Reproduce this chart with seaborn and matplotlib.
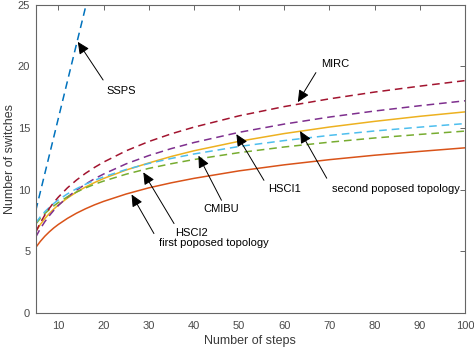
import matplotlib
matplotlib.use("Agg")
import matplotlib.pyplot as plt
import seaborn as sns
import pandas as pd

# ---- data ----
steps = [5, 6, 7, 8, 9, 10, 12, 14, 16, 18, 20, 25, 30, 35, 40, 50, 60, 70, 80, 90, 100]
ssps_steps = [5, 10, 15, 20]
ssps = [8.3, 15.8, 23.3, 30.8]
mirc = [6.55, 7.30, 7.93, 8.48, 8.96, 9.39, 10.14, 10.77, 11.32, 11.80, 12.23, 13.15,
        13.90, 14.53, 15.07, 15.99, 16.74, 17.37, 17.92, 18.40, 18.85]
hsci1 = [6.15, 6.82, 7.39, 7.88, 8.32, 8.71, 9.38, 9.95, 10.44, 10.88, 11.26, 12.09,
         12.76, 13.33, 13.82, 14.65, 15.32, 15.89, 16.38, 16.81, 17.21]
second_prop = [6.60, 7.16, 7.64, 8.06, 8.42, 8.75, 9.31, 9.79, 10.21, 10.57, 10.90, 11.59,
               12.16, 12.69, 13.15, 13.92, 14.55, 15.08, 15.54, 15.95, 16.31]
cmibu = [7.30, 7.79, 8.20, 8.56, 8.88, 9.16, 9.65, 10.07, 10.43, 10.75, 11.03, 11.63,
         12.12, 12.53, 12.89, 13.50, 13.98, 14.40, 14.76, 15.07, 15.36]
hsci2 = [7.20, 7.66, 8.05, 8.38, 8.68, 8.95, 9.41, 9.80, 10.13, 10.43, 10.69, 11.25,
         11.72, 12.10, 12.44, 13.00, 13.46, 13.85, 14.19, 14.48, 14.75]
first_prop = [5.30, 5.79, 6.21, 6.57, 6.89, 7.17, 7.66, 8.08, 8.44, 8.76, 9.04, 9.64,
              10.14, 10.55, 10.91, 11.52, 12.01, 12.43, 12.79, 13.10, 13.39]

xticks = [10, 20, 30, 40, 50, 60, 70, 80, 90, 100]
yticks = [0, 5, 10, 15, 20, 25]

series = [
    ("SSPS", ssps_steps, ssps, "#0072BD", "--"),
    ("first poposed topology", steps, first_prop, "#D95319", "-"),
    ("second poposed topology", steps, second_prop, "#EDB120", "-"),
    ("HSCI1", steps, hsci1, "#7E2F8E", "--"),
    ("HSCI2", steps, hsci2, "#77AC30", "--"),
    ("CMIBU", steps, cmibu, "#4DBEEE", "--"),
    ("MIRC", steps, mirc, "#A2142F", "--"),
]

sns.set_theme(style="white")
plt.rcParams["font.family"] = ["Liberation Sans", "DejaVu Sans"]

fig = plt.figure(figsize=(4.74, 3.49), dpi=100)
ax = fig.add_axes([0.0755, 0.104, 0.9055, 0.882])

for name, xs, ys, col, ls in series:
    df = pd.DataFrame({"x": xs, "y": ys})
    line_kw = dict(color=col, linewidth=1.1)
    if ls == "--":
        line_kw["dashes"] = (5, 3.2)
    sns.lineplot(data=df, x="x", y="y", ax=ax, legend=False, **line_kw)

ax.set_xlim(5, 100)
ax.set_ylim(0, 25)
ax.set_xticks(xticks)
ax.set_yticks(yticks)
axcol = "#666666"
for s in ax.spines.values():
    s.set_color(axcol)
    s.set_linewidth(0.8)
ax.tick_params(direction="in", length=3.5, width=0.7, colors=axcol, labelsize=8,
               top=True, right=True)
ax.tick_params(axis="x", pad=6)
ax.tick_params(axis="y", pad=4)
for lab in ax.get_xticklabels() + ax.get_yticklabels():
    lab.set_color("#4a4a4a")
ax.set_xlabel("Number of steps", fontsize=9, color="#3a3a3a", labelpad=3)
ax.set_ylabel("Number of switches", fontsize=9, color="#3a3a3a")
ax.yaxis.set_label_coords(-0.045, 0.5)

# annotations: (text, text pos, arrow tail, arrow tip)
notes = [
    ("SSPS", (24.0, 18.0), (19.9, 18.9), (14.3, 22.0)),
    ("MIRC", (71.3, 20.17), (67.0, 19.5), (63.0, 17.1)),
    ("HSCI1", (60.1, 10.02), (55.5, 10.75), (49.4, 14.5)),
    ("second poposed topology", (84.8, 10.08), (69.4, 10.92), (63.5, 14.75)),
    ("CMIBU", (46.1, 8.46), (46.1, 9.13), (41.0, 12.75)),
    ("HSCI2", (39.5, 6.51), (35.6, 7.24), (28.8, 11.4)),
    ("first poposed topology", (44.4, 5.67), (31.15, 6.43), (26.2, 9.6)),
]
for txt, tpos, tail, tip in notes:
    ax.text(tpos[0], tpos[1], txt, ha="center", va="center", fontsize=8, color="black")
    ax.annotate("", xy=tip, xytext=tail,
                arrowprops=dict(arrowstyle="-|>,head_length=0.6,head_width=0.28",
                                color="black", lw=0.7, shrinkA=0, shrinkB=0))

fig.savefig("out.png", dpi=100)
